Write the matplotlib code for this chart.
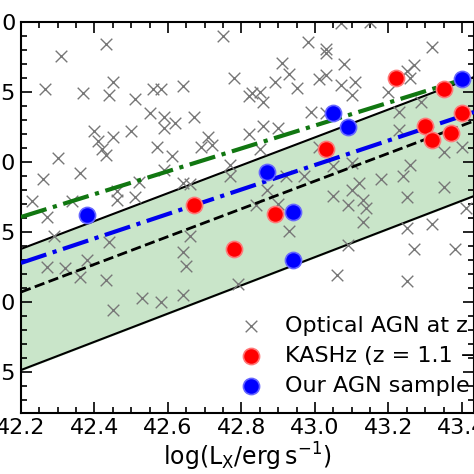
import matplotlib
matplotlib.use("Agg")
import matplotlib.pyplot as plt
import numpy as np
from matplotlib.ticker import MultipleLocator

opt_x = [42.265,42.31,42.43,42.75,42.98,43.03,43.03,43.07,43.15,43.32,42.91,42.93,43.08,43.01,43.03,43.11,43.07,43.27,43.25,43.26,
         42.78,42.89,42.95,42.83,42.85,42.86,42.82,42.64,42.56,42.58,42.44,42.45,42.37,42.51,42.55,42.59,42.62,42.59,42.50,42.45,
         42.40,42.41,42.42,42.43,42.57,42.67,42.71,42.72,42.69,42.61,42.82,42.86,42.90,43.20,43.23,43.29,43.10,42.99,43.03,42.30,
         42.26,42.36,42.23,42.27,42.34,42.46,42.46,42.51,42.52,42.59,42.64,42.66,42.77,42.77,42.92,42.97,42.85,42.87,42.84,42.90,
         42.93,43.05,43.09,43.10,43.12,43.13,43.14,43.13,43.18,43.24,43.26,43.25,43.32,43.25,43.35,43.35,43.40,43.41,43.05,43.10,
         43.01,43.23,42.29,42.27,42.32,42.36,42.38,42.43,42.45,42.44,42.53,42.58,42.64,42.65,42.64,42.66,42.79,43.06,43.09,43.25,
         43.27,43.38]
opt_y = [2.52,2.76,2.84,2.90,2.86,2.81,2.78,2.99,3.00,2.82,2.71,2.63,2.70,2.59,2.62,2.57,2.55,2.69,2.65,2.60,
         2.60,2.57,2.53,2.49,2.50,2.43,2.47,2.54,2.52,2.52,2.48,2.57,2.49,2.45,2.35,2.32,2.28,2.24,2.22,2.18,
         2.22,2.15,2.09,2.05,2.11,2.32,2.18,2.12,2.11,2.04,2.20,2.26,2.24,2.50,2.36,2.43,2.48,2.36,2.35,2.03,
         1.88,1.92,1.72,1.61,1.72,1.79,1.73,1.75,1.86,1.94,1.85,1.84,1.98,1.90,1.90,1.90,2.09,1.80,1.69,1.70,
         1.51,1.76,1.69,1.80,1.85,1.73,1.67,1.57,1.88,1.90,1.98,1.75,1.56,1.53,2.07,1.82,2.11,1.67,1.97,1.99,
         2.11,2.23,1.47,1.25,1.24,1.18,1.30,1.16,0.94,1.43,1.03,1.00,1.36,1.26,1.05,1.47,1.13,1.19,1.41,1.15,
         1.38,1.38]
kas_x = [43.22,43.35,43.40,43.30,43.32,43.37,43.03,42.67,42.89,42.78]
kas_y = [2.60,2.52,2.35,2.26,2.16,2.21,2.09,1.69,1.63,1.38]
our_x = [43.40,43.05,43.09,42.87,42.38,42.94,42.94]
our_y = [2.59,2.35,2.25,1.93,1.62,1.64,1.30]

line_x = [42.2, 43.433]
upper = [1.379, 2.607]
lower = [0.514, 1.757]
green = [1.607, 2.614]
blue = [1.279, 2.357]
dashed = [1.071, 2.293]

fig = plt.figure(figsize=(4.74, 4.74), dpi=100)
ax = fig.add_axes([21/474, 61/474, 453/474, 391/474])
ax.fill_between(line_x, lower, upper, color='#c9e5c9', zorder=0)
ax.plot(line_x, upper, color='black', lw=1.5, zorder=1)
ax.plot(line_x, lower, color='black', lw=1.5, zorder=1)
ax.scatter(opt_x, opt_y, marker='x', s=70, color='#777777', lw=1.0, zorder=2, label='Optical AGN at z < 1')
ax.plot(line_x, dashed, color='black', ls='--', lw=2, zorder=3)
ax.plot(line_x, blue, color='#0000ee', ls='-.', lw=3, zorder=3)
ax.plot(line_x, green, color='#117711', ls='-.', lw=3, zorder=3)
ax.scatter(kas_x, kas_y, s=135, color='#ff0000', edgecolor='#ff7777', lw=1.2, zorder=4, label='KASHz (z = 1.1 − 1.7)')
ax.scatter(our_x, our_y, s=135, color='#0000ff', edgecolor='#6666ff', lw=1.2, zorder=4, label='Our AGN sample')

ax.set_xlim(42.2, 43.433)
ax.set_ylim(0.207, 3.0)
ax.xaxis.set_major_locator(MultipleLocator(0.2))
ax.xaxis.set_minor_locator(MultipleLocator(0.05))
ax.yaxis.set_major_locator(MultipleLocator(0.5))
ax.yaxis.set_minor_locator(MultipleLocator(0.1))
ax.tick_params(which='both', direction='in', top=True, right=True, labelsize=16, width=1.2)
ax.tick_params(which='major', length=8)
ax.tick_params(which='minor', length=4)
for s in ax.spines.values():
    s.set_linewidth(1.5)
ax.set_xlabel(r'$\log(\mathrm{L_X/erg\,s^{-1}})$', fontsize=17, labelpad=2)
ax.legend(loc='upper left', bbox_to_anchor=(0.44, 0.27), frameon=False, fontsize=16,
          handletextpad=0.5, labelspacing=0.45, borderaxespad=0, scatterpoints=1)
fig.savefig('out.png', dpi=100)
